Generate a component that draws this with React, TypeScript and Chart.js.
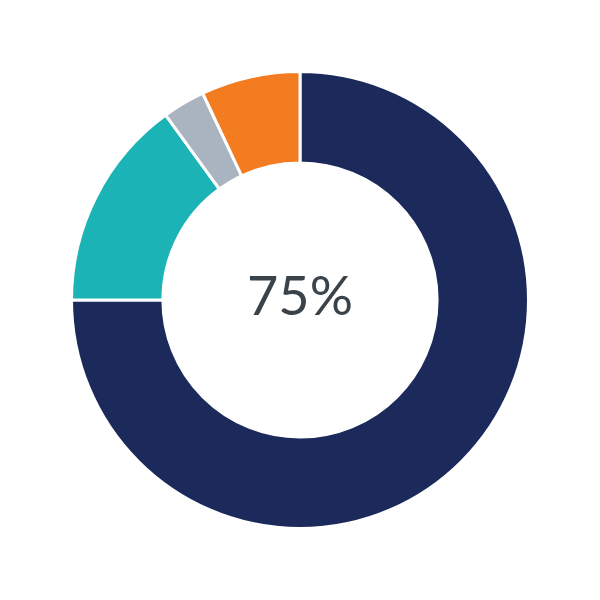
import React, { useEffect, useRef } from "react";
import { Chart, registerables } from "chart.js";

Chart.register(...registerables);

const categories = ["Navy", "Teal", "Gray", "Orange"];
const values = [75, 15, 3, 7];
const colors = ["#1b2a5b", "#1bb3b5", "#aab3c0", "#f37b20"];
const centerLabel = "75%";

export default function App() {
  const ref = useRef<HTMLCanvasElement | null>(null);
  useEffect(() => {
    if (!ref.current) return;
    const chart = new Chart(ref.current, {
      type: "doughnut",
      data: {
        labels: categories,
        datasets: [
          {
            data: values,
            backgroundColor: colors,
            borderColor: "#ffffff",
            borderWidth: 3,
            hoverOffset: 0,
          },
        ],
      },
      options: {
        responsive: true,
        maintainAspectRatio: false,
        animation: false,
        cutout: "60%",
        layout: { padding: 62 },
        plugins: { legend: { display: false }, tooltip: { enabled: false } },
      },
    });
    return () => chart.destroy();
  }, []);
  return (
    <div style={{ position: "relative", width: 584, height: 584 }}>
      <canvas ref={ref} />
      <div
        style={{
          position: "absolute",
          left: 0,
          top: -6,
          width: "100%",
          height: "100%",
          display: "flex",
          alignItems: "center",
          justifyContent: "center",
          fontFamily: "Lato, sans-serif",
          fontSize: 54,
          color: "#3a424a",
          pointerEvents: "none",
        }}
      >
        {centerLabel}
      </div>
    </div>
  );
}
